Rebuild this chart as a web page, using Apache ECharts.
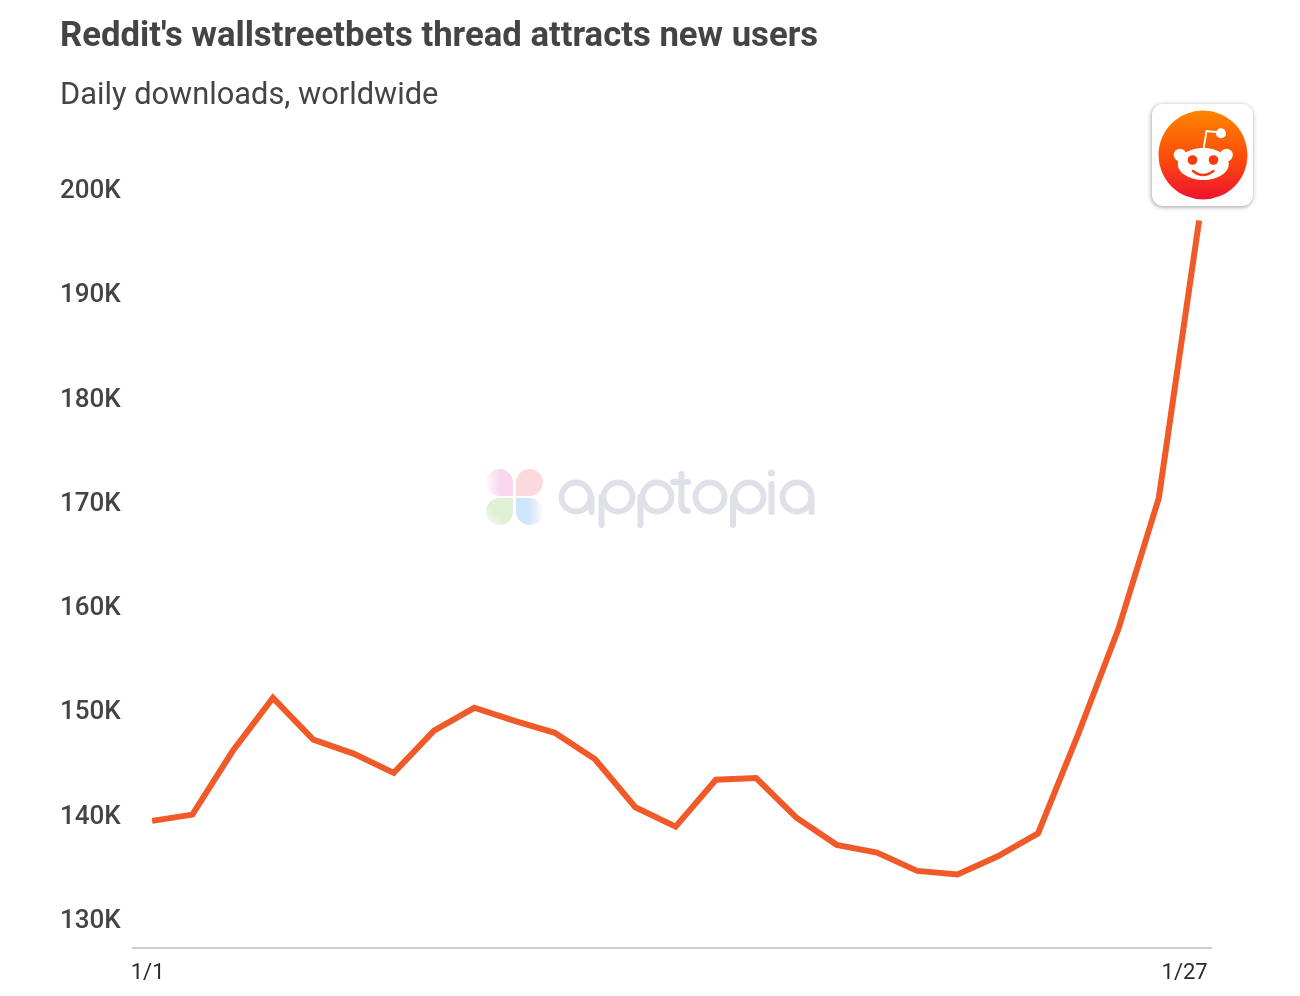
<!DOCTYPE html>
<html>
<head>
<meta charset="utf-8">
<style>
  html, body { margin: 0; padding: 0; background: #fff; }
  #chart { width: 1300px; height: 996px; }
</style>
<script src="https://cdn.jsdelivr.net/npm/echarts@6/dist/echarts.min.js"></script>
</head>
<body>
<div id="chart"></div>
<script>
// day of January, downloads
const days = [1, 2, 3, 4, 5, 6, 7, 8, 9, 10, 11, 12, 13, 14, 15, 16, 17, 18, 19, 20, 21, 22, 23, 24, 25, 26, 27];
const downloads = [139400, 140000, 146100, 151200, 147200, 145850, 144000, 148050, 150250, 149000, 147850, 145300, 140700, 138850, 143350, 143500, 139700, 137100, 136350, 134600, 134250, 136000, 138200, 147750, 157850, 170400, 197000];
const yTicks = [130000, 140000, 150000, 160000, 170000, 180000, 190000, 200000];
const xTicks = [1, 27];
const xTickLabels = ["1/1", "1/27"];

const titleText = "Reddit's wallstreetbets thread attracts new users";
const subtitleText = "Daily downloads, worldwide";

let myChart = echarts.init(document.getElementById("chart"), null, { renderer: "canvas" });

const logoGrey = "#e0e1e8";

// pieces of the apptopia wordmark
function ring(cx) {
  return { type: "circle", z: 1, shape: { cx: cx, cy: 497, r: 14.5 }, style: { fill: "none", stroke: logoGrey, lineWidth: 6 } };
}
function bar(x1, y1, x2, y2) {
  return { type: "line", z: 1, shape: { x1: x1, y1: y1, x2: x2, y2: y2 }, style: { stroke: logoGrey, lineWidth: 6, lineCap: "round" } };
}
// gradient goes from the pale outer corner to the full colour at the centre
function petal(x, y, r, color, x0, y0, x1, y1) {
  return {
    type: "rect", z: 1,
    shape: { x: x, y: y, width: 27, height: 27, r: r },
    style: { fill: new echarts.graphic.LinearGradient(x0, y0, x1, y1, [
      { offset: 0, color: "#fdfafc" },
      { offset: 0.55, color: color },
      { offset: 1, color: color }
    ]) }
  };
}
function white(shape, type) {
  return { type: type, z: 11, shape: shape, style: { fill: "#fff" } };
}

const watermark = [
  petal(486, 469, [14, 14, 0, 14], "#f8d6ee", 0, 0.6, 1, 0.6),
  petal(516, 469, [14, 14, 14, 0], "#fbd9dc", 1, 0, 0.7, 0.3),
  petal(486, 498, [14, 0, 14, 14], "#e0f0d5", 0, 1, 0.7, 0.3),
  petal(516, 498, [0, 14, 14, 14], "#cfe5fb", 1, 0.4, 0, 0.4),
  ring(576), bar(591.5, 497, 591.5, 512),
  ring(618), bar(601.5, 497, 601.5, 525),
  ring(657), bar(640.5, 497, 640.5, 525),
  bar(681.5, 474, 681.5, 503), bar(673, 482, 688, 482),
  { type: "bezierCurve", z: 1, shape: { x1: 681.5, y1: 503, cpx1: 681.5, cpy1: 511, x2: 688, y2: 511 }, style: { fill: "none", stroke: logoGrey, lineWidth: 6, lineCap: "round" } },
  ring(710),
  ring(749), bar(733, 497, 733, 525),
  bar(771.5, 484, 771.5, 512),
  { type: "circle", z: 1, shape: { cx: 771.5, cy: 473, r: 3.6 }, style: { fill: logoGrey } },
  ring(797), bar(811.5, 497, 811.5, 512)
];

const redditIcon = [
  { type: "rect", z: 10, shape: { x: 1152, y: 104, width: 101, height: 102, r: 11 }, style: { fill: "#fff", shadowBlur: 4, shadowColor: "rgba(0,0,0,0.4)", shadowOffsetX: -0.5, shadowOffsetY: 1 } },
  { type: "circle", z: 11, shape: { cx: 1203, cy: 155, r: 44.5 }, style: {
      fill: new echarts.graphic.LinearGradient(0, 0, 0, 1, [
        { offset: 0, color: "#ff8500" },
        { offset: 0.55, color: "#fb4a0c" },
        { offset: 1, color: "#ee1230" }
      ]) } },
  white({ cx: 1180, cy: 155, r: 6.3 }, "circle"),
  white({ cx: 1226.5, cy: 155, r: 6.3 }, "circle"),
  white({ cx: 1203.3, cy: 164, rx: 25.5, ry: 16 }, "ellipse"),
  { type: "polyline", z: 11, shape: { points: [[1203.5, 149], [1206.5, 131], [1221, 132.5]] }, style: { fill: "none", stroke: "#fff", lineWidth: 1.8 } },
  white({ cx: 1221, cy: 133.3, r: 5 }, "circle"),
  { type: "circle", z: 12, shape: { cx: 1192.5, cy: 160, r: 4.8 }, style: { fill: "#fb3a10" } },
  { type: "circle", z: 12, shape: { cx: 1213.5, cy: 160, r: 4.8 }, style: { fill: "#fb3a10" } },
  { type: "bezierCurve", z: 12, shape: { x1: 1193, y1: 171, cpx1: 1203, cpy1: 179, x2: 1213.5, y2: 171 }, style: { fill: "none", stroke: "#f8380f", lineWidth: 2.4, lineCap: "round" } }
];

myChart.setOption({
  animation: false,
  backgroundColor: "#fff",
  title: [
    { text: titleText, left: 55, top: 15, textStyle: { fontFamily: "Roboto", fontSize: 34.7, fontWeight: "bold", color: "#444" } },
    { text: subtitleText, left: 55, top: 76, textStyle: { fontFamily: "Roboto", fontSize: 30.8, fontWeight: "normal", color: "#444" } }
  ],
  grid: { left: 132, right: 88, top: 84, bottom: 48 },
  xAxis: {
    type: "value",
    min: 0.5,
    max: 27.32,
    splitLine: { show: false },
    axisTick: { show: false },
    axisLine: { show: true, onZero: false, lineStyle: { color: "#ccc", width: 2, cap: "butt" } },
    axisLabel: {
      customValues: xTicks,
      margin: 14,
      fontFamily: "Roboto",
      formatter: (value) => "{d" + value + "|" + xTickLabels[xTicks.indexOf(value)] + "}",
      rich: {
        d1: { fontFamily: "Roboto", fontSize: 22, color: "#2a2a2a", padding: [0, 9, 0, 0] },
        d27: { fontFamily: "Roboto", fontSize: 22, color: "#2a2a2a", padding: [0, 29, 0, 0] }
      }
    }
  },
  yAxis: {
    type: "value",
    min: 127200,
    max: 210100,
    splitLine: { show: false },
    axisTick: { show: false },
    axisLine: { show: false },
    axisLabel: {
      customValues: yTicks,
      align: "left",
      margin: 72,
      formatter: (value) => "{v|" + value / 1000 + "K}",
      rich: {
        v: { fontFamily: "Roboto", fontSize: 26, fontWeight: 500, color: "#444", padding: [5, 0, 0, 0] }
      }
    }
  },
  series: [
    {
      name: "Daily downloads",
      type: "line",
      z: 5,
      showSymbol: false,
      symbol: "none",
      clip: false,
      lineStyle: { color: "#f05a28", width: 6, cap: "butt", join: "miter" },
      data: days.map((day, i) => [day, downloads[i]])
    }
  ],
  graphic: watermark.concat(redditIcon)
});
</script>
</body>
</html>
